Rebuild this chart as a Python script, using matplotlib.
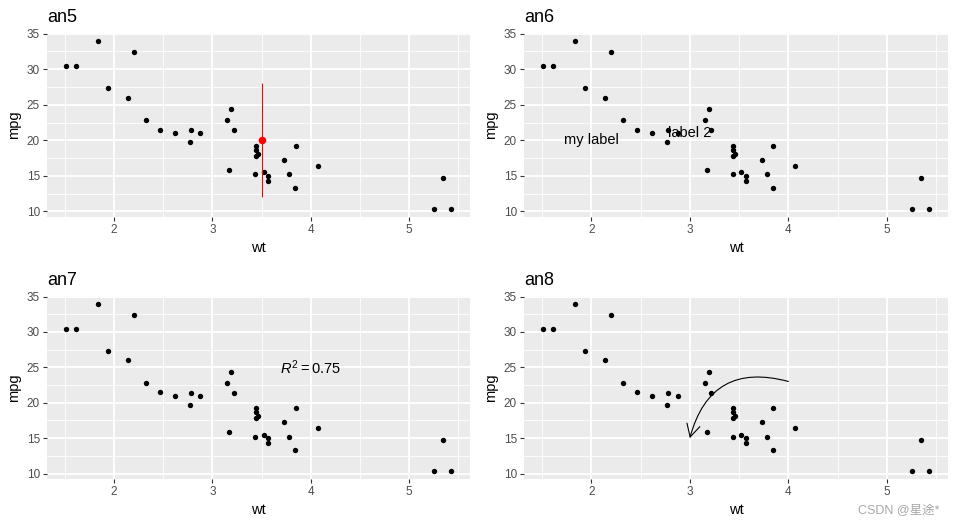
import matplotlib
matplotlib.use("Agg")
import matplotlib.pyplot as plt
from matplotlib.patches import FancyArrowPatch
from matplotlib.ticker import FixedLocator

plt.rcParams['font.family'] = ['Liberation Sans', 'Noto Sans CJK SC', 'DejaVu Sans']
plt.rcParams['mathtext.fontset'] = 'custom'
plt.rcParams['mathtext.rm'] = 'Liberation Sans'
plt.rcParams['mathtext.it'] = 'Liberation Sans:italic'

# mtcars wt / mpg
wt = [2.620, 2.875, 2.320, 3.215, 3.440, 3.460, 3.570, 3.190, 3.150, 3.440,
      3.440, 4.070, 3.730, 3.780, 5.250, 5.424, 5.345, 2.200, 1.615, 1.835,
      2.465, 3.520, 3.435, 3.840, 3.845, 1.935, 2.140, 1.513, 3.170, 2.770,
      3.570, 2.780]
mpg = [21.0, 21.0, 22.8, 21.4, 18.7, 18.1, 14.3, 24.4, 22.8, 19.2,
       17.8, 16.4, 17.3, 15.2, 10.4, 10.4, 14.7, 32.4, 30.4, 33.9,
       21.5, 15.5, 15.2, 13.3, 19.2, 27.3, 26.0, 30.4, 15.8, 19.7,
       15.0, 21.4]

titles = ["an5", "an6", "an7", "an8"]
x_ticks = [2, 3, 4, 5]
y_ticks = [10, 15, 20, 25, 30, 35]

# annotations
pr_x, pr_y, pr_ymin, pr_ymax = 3.5, 20, 12, 28
text_x = [2, 3]
text_y = [20, 21]
text_lab = ["my label", "label 2"]
r2_x, r2_y, r2_lab = 4, 25, r"$R^{2}=0.75$"
curve_from = (4, 23)
curve_to = (3, 15)

W, H = 956, 526
fig = plt.figure(figsize=(W / 100, H / 100), dpi=100)

panels_px = [(47, 33, 470, 217), (524, 33, 948, 217),
             (47, 296, 470, 479), (524, 296, 948, 479)]

xmin, xmax = min(wt), max(wt)
ymin, ymax = min(mpg), max(mpg)
xr = xmax - xmin
yr = ymax - ymin
xlim = (xmin - 0.05 * xr, xmax + 0.05 * xr)
ylim = (ymin - 0.05 * yr, ymax + 0.05 * yr)

axes = []
for (l, t, r, b), title in zip(panels_px, titles):
    ax = fig.add_axes([l / W, 1 - b / H, (r - l) / W, (b - t) / H])
    ax.set_facecolor('#EBEBEB')
    for s in ax.spines.values():
        s.set_visible(False)
    ax.set_xlim(*xlim)
    ax.set_ylim(*ylim)
    ax.xaxis.set_major_locator(FixedLocator(x_ticks))
    ax.yaxis.set_major_locator(FixedLocator(y_ticks))
    ax.xaxis.set_minor_locator(FixedLocator([1.5, 2.5, 3.5, 4.5, 5.5]))
    ax.yaxis.set_minor_locator(FixedLocator([12.5, 17.5, 22.5, 27.5, 32.5]))
    ax.grid(which='major', color='white', linewidth=1.3)
    ax.grid(which='minor', color='white', linewidth=0.6)
    ax.set_axisbelow(True)
    ax.tick_params(which='major', length=3, width=0.8, color='#333333',
                   labelcolor='#4D4D4D', labelsize=8.5, pad=2)
    ax.tick_params(which='minor', length=0)
    ax.set_xlabel('wt', fontsize=10.5, color='black', labelpad=4)
    ax.set_ylabel('mpg', fontsize=10.5, color='black', labelpad=4)
    ax.set_title(title, loc='left', fontsize=13, pad=8, color='black')
    ax.scatter(wt, mpg, s=15, color='black', zorder=3, linewidths=0)
    axes.append(ax)

# an5: pointrange
a = axes[0]
a.vlines(pr_x, pr_ymin, pr_ymax, color='red', linewidth=0.75, zorder=4)
a.scatter([pr_x], [pr_y], s=30, color='red', zorder=5, linewidths=0)

# an6: text labels
a = axes[1]
for x, y, lab in zip(text_x, text_y, text_lab):
    a.text(x, y, lab, ha='center', va='center', fontsize=10.5, color='black', zorder=6)

# an7: R^2
a = axes[2]
a.text(r2_x, r2_y, r2_lab, ha='center', va='center', fontsize=10.5, color='black', zorder=6)

# an8: curve arrow
a = axes[3]
arrow = FancyArrowPatch(posA=curve_from, posB=curve_to,
                        connectionstyle='arc3,rad=0.5',
                        arrowstyle='->,head_length=0.45,head_width=0.24',
                        mutation_scale=20, linewidth=0.8, color='black',
                        shrinkA=0, shrinkB=0, zorder=6)
a.add_patch(arrow)

fig.text(940 / W, 1 - 511 / H, 'CSDN @星途*', ha='right', va='center',
         fontsize=9, color='#A8A8A8',
         family=['Liberation Sans', 'Noto Sans CJK SC'])

fig.savefig('out.png', dpi=100)
